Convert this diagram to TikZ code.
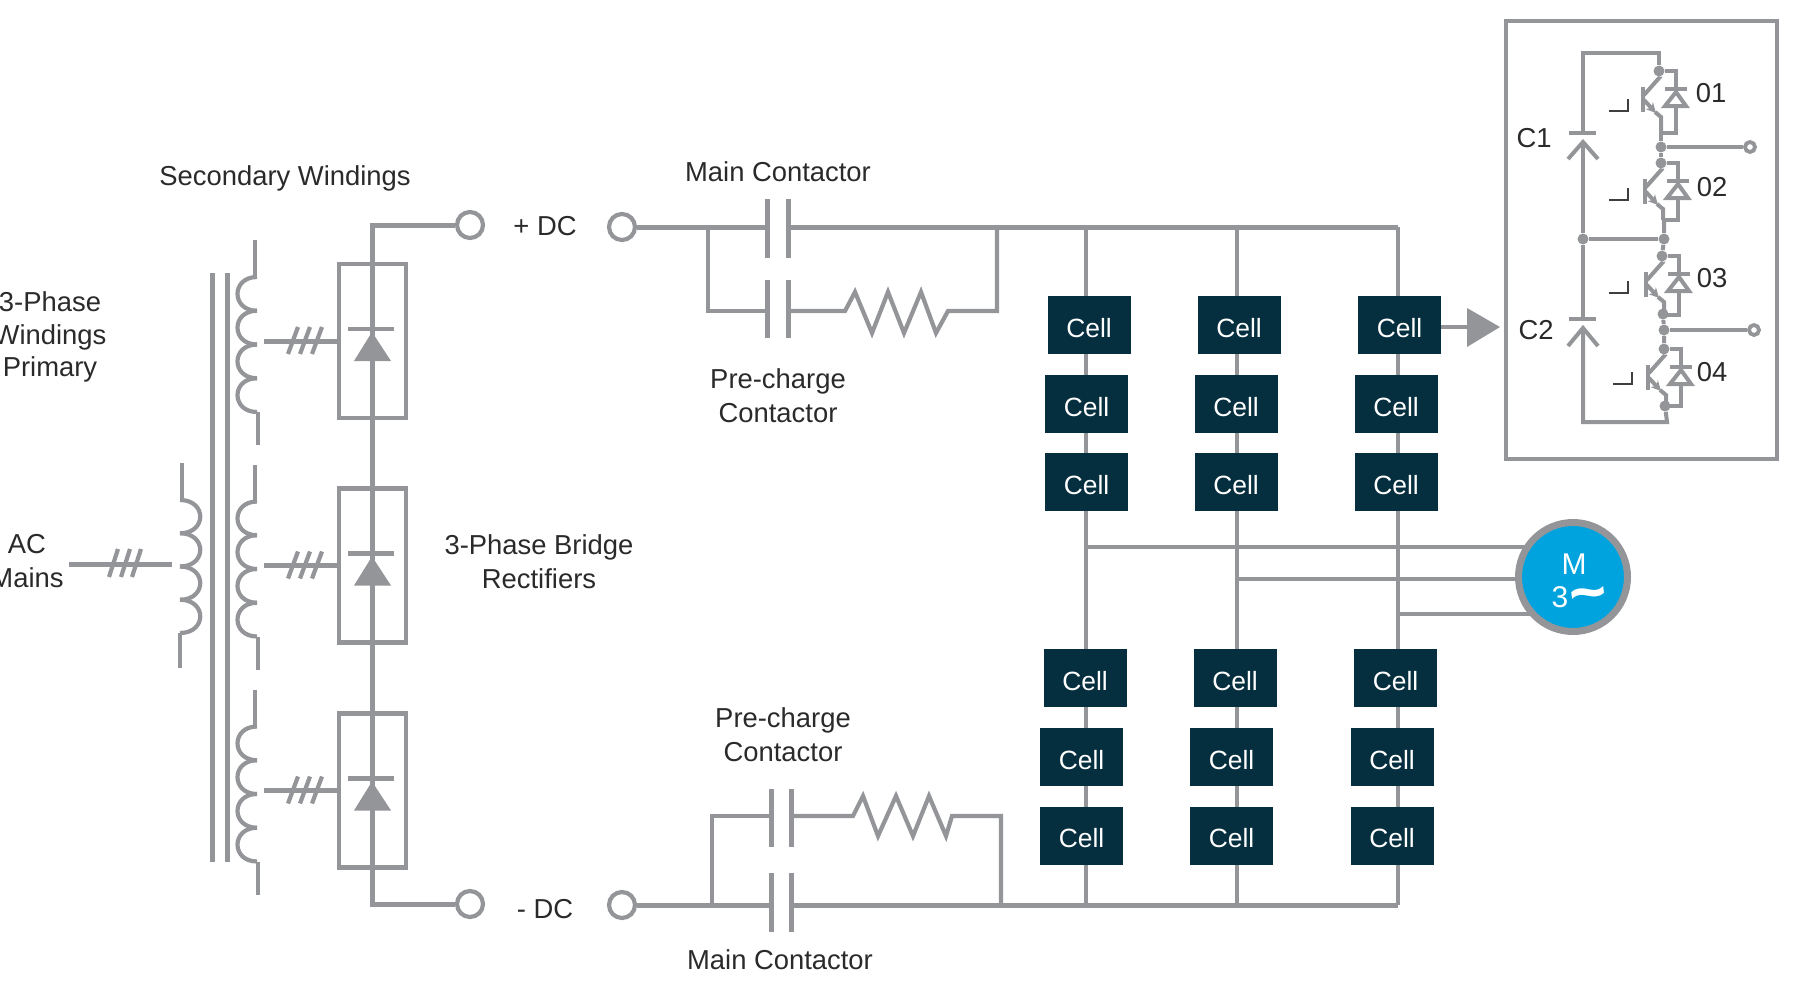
\documentclass[tikz,border=0pt]{standalone}
\usepackage{fontspec}
\setmainfont{Liberation Sans}
\usepackage{xcolor}
\usetikzlibrary{positioning,backgrounds,arrows.meta}
\definecolor{wirecolor}{RGB}{147, 149, 152}
\definecolor{cellcolor}{RGB}{5, 46, 62}
\definecolor{motorcolor}{RGB}{0, 163, 222}
\definecolor{labelcolor}{RGB}{42, 42, 42}

\begin{document}
\begin{tikzpicture}[
    x=0.5pt, y=-0.5pt,
    wire/.style={draw=wirecolor, line width=2.5pt},
    coilwire/.style={draw=wirecolor, line width=2.1pt},
    inwire/.style={draw=wirecolor, line width=2pt},
    frame/.style={rectangle, draw=wirecolor, line width=2.4pt, inner sep=0pt},
    terminal/.style={circle, draw=wirecolor, fill=white, line width=2.1pt, minimum size=13pt, inner sep=0pt},
    smallterminal/.style={circle, draw=wirecolor, fill=white, line width=1.9pt, minimum size=5pt, inner sep=0pt},
    jdot/.style={circle, fill=wirecolor, minimum size=5.5pt, inner sep=0pt},
    cellnode/.style={rectangle, fill=cellcolor, text=white, minimum width=41.5pt, minimum height=29pt, inner sep=0pt,
        text height=12.3pt, text depth=0pt, font=\fontsize{13.2}{16}\selectfont},
    lbl/.style={text=labelcolor, inner sep=0pt, align=center, font=\fontsize{13.7}{17}\selectfont},
    gatemark/.style={draw=labelcolor!80!wirecolor, line width=1pt},
]
    \useasboundingbox (0,0) rectangle (1800,1001);

    % Terminals
    \node[terminal] (plusL) at (470,225) {};
    \node[terminal] (plusR) at (622,227) {};
    \node[terminal] (minusL) at (470,904) {};
    \node[terminal] (minusR) at (622,905) {};

    % Cells, top half
    \foreach \c/\xa/\xb in {1/1089/1086.5, 2/1239/1236, 3/1399.5/1396} {
        \node[cellnode] (ta\c) at (\xa,325) {Cell};
        \node[cellnode] (tb\c) at (\xb,404) {Cell};
        \node[cellnode] (tc\c) at (\xb,482) {Cell};
    }
    % Cells, bottom half
    \foreach \c/\xa/\xb in {1/1085/1081.5, 2/1235/1231.5, 3/1395.5/1392} {
        \node[cellnode] (ba\c) at (\xa,678) {Cell};
        \node[cellnode] (bb\c) at (\xb,757) {Cell};
        \node[cellnode] (bc\c) at (\xb,835.5) {Cell};
    }

    % Motor
    \node[circle, draw=wirecolor, fill=motorcolor, line width=3.5pt, minimum size=54.5pt, inner sep=0pt] (motor) at (1573,577) {};
    \node[text=white, inner sep=0pt, font=\fontsize{15}{18}\selectfont] (motorM) at (1574,564) {M};
    \node[text=white, inner sep=0pt, font=\fontsize{15}{18}\selectfont] (motorN) at (1560,597) {3};
    \node[text=white, inner sep=0pt, rotate=8, font=\fontsize{32}{32}\bfseries] (motorT) at (1589,601) {\textasciitilde};

    % Buses and strings
    \coordinate (mainTL) at (767,227);
    \coordinate (mainTR) at (788,227);
    \coordinate (mainBL) at (771,905);
    \coordinate (mainBR) at (791,905);
    \coordinate (topbus) at (1398,227);
    \coordinate (botbus) at (1398,905);
    \coordinate (phase1) at (1086,547);
    \coordinate (phase2) at (1237,579);
    \coordinate (phase3) at (1398,614);
    \begin{scope}[on background layer]
        \draw[wire] (plusR) -- (mainTL);
        \draw[wire] (mainTR) -- (topbus);
        \draw[wire] (minusR) -- (mainBL);
        \draw[wire] (mainBR) -- (botbus);
        \foreach \x in {1086,1237,1398} {
            \draw[coilwire] (\x,227) -- (\x,905);
        }
        \draw[coilwire] (phase1) -- (phase1 -| motor);
        \draw[coilwire] (phase2) -- (phase2 -| motor);
        \draw[coilwire] (phase3) -- (phase3 -| motor);
    \end{scope}

    % Rectifier stack
    \draw[wire] (plusL) -| (372,904) -- (minusL);
    \foreach \i/\dy in {1/0, 2/224.5, 3/449.5} {
        \node[frame, minimum width=33.5pt, minimum height=77pt] (rect\i) at (372.5,341+\dy) {};
        \draw[coilwire] (348,329+\dy) -- (394,329+\dy);
        \fill[wirecolor] (372,332+\dy) -- (391,361+\dy) -- (354,361+\dy) -- cycle;
        \coordinate (tap\i) at (264,341+\dy);
        \draw[wire] (tap\i) -- (rect\i.west);
        \foreach \s in {0,12,24} {
            \draw[coilwire] (288+\s,354+\dy) -- (298+\s,327+\dy);
        }
        % Secondary winding
        \draw[coilwire] (255,240+\dy) -- (255,277+\dy);
        \draw[coilwire] (258,412+\dy) -- (258,445+\dy);
        \foreach \k in {0,1,2,3} {
            \draw[coilwire] (257,{277+\dy+33.75*\k}) .. controls (231,{277+\dy+33.75*\k}) and (231,{277+\dy+33.75*(\k+1)}) .. (257,{277+\dy+33.75*(\k+1)});
        }
    }

    % Core and primary winding
    \draw[wire] (212,273) -- (212,862);
    \draw[wire] (227,273) -- (227,862);
    \draw[coilwire] (182,463) -- (182,500);
    \draw[coilwire] (180,633) -- (180,668);
    \foreach \k in {0,1,2,3} {
        \draw[coilwire] (180,{500+33.25*\k}) .. controls (207,{500+33.25*\k}) and (207,{500+33.25*(\k+1)}) .. (180,{500+33.25*(\k+1)});
    }
    \coordinate (acL) at (69,564);
    \coordinate (acR) at (172,564);
    \draw[wire] (acL) -- (acR);
    \foreach \s in {0,12,23} {
        \draw[coilwire] (109+\s,577) -- (118+\s,549);
    }

    % Main contactor, top
    \coordinate (tbr) at (708,227);
    \coordinate (tcr) at (997,227);
    \draw[wire] (767,199) -- (767,258);
    \draw[wire] (788,199) -- (788,258);
    \draw[wire] (767,280) -- (767,338);
    \draw[wire] (788,280) -- (788,338);
    \draw[coilwire] (tbr) |- (767,311);
    \draw[coilwire] (788,311) -- (845,311) -- (855,292) -- (872,333) -- (888,292) -- (904,333) -- (921,292) -- (936,333) -- (948,311) -- (997,311) -- (tcr);

    % Main contactor, bottom
    \coordinate (bbr) at (712,905);
    \coordinate (bcr) at (1001,905);
    \draw[wire] (771,873) -- (771,932);
    \draw[wire] (791,873) -- (791,932);
    \draw[wire] (771,789) -- (771,847);
    \draw[wire] (791,789) -- (791,847);
    \draw[coilwire] (bbr) |- (771,816);
    \draw[coilwire] (791,816) -- (853,816) -- (863,796) -- (878,836) -- (896,796) -- (913,836) -- (929,796) -- (946,836) -- (952,816) -- (1001,816) -- (bcr);

    % Arrow to the inset
    \coordinate (arrowtip) at (1500,327);
    \draw[coilwire] (ta3.east |- arrowtip) -- (1470,327);
    \fill[wirecolor] (1467,308) -- (arrowtip) -- (1467,347) -- cycle;

    % Inset frame
    \node[frame, minimum width=135.5pt, minimum height=219pt] (inset) at (1641.5,240) {};

    % Half bridge
    \foreach \i/\tx/\ty/\low/\gx/\gy in {1/1659/71/133/1609/111, 2/1661/163/220/1609/200, 3/1662/256/314.5/1609/293, 4/1664/349/406/1613/384} {
        \node[jdot] (d\i) at (\tx,\ty) {};
        \draw[inwire] (d\i) -- (\tx+1,\ty+6) -- (\tx-15,\ty+24);
        \draw[inwire, line width=2.4pt] (\tx-16,\ty+16) -- (\tx-16,\ty+41);
        \draw[inwire, -{Stealth[length=5pt,width=5pt]}] (\tx-15,\ty+29) -- (\tx-3,\ty+42);
        \draw[inwire] (\tx-4,\ty+41) -- (\tx+2,\ty+46) -- (\tx+2,\low);
        % Freewheel diode
        \draw[inwire] (d\i) -| (\tx+17,\ty+18);
        \draw[inwire] (\tx+6,\ty+18) -- (\tx+28,\ty+18);
        \draw[inwire, line join=miter] (\tx+17,\ty+21) -- (\tx+27,\ty+35) -- (\tx+6,\ty+35) -- cycle;
        \draw[inwire] (\tx+17,\ty+35) -- (\tx+17,\low) -- (\tx+2,\low);
        % Gate mark
        \draw[gatemark] (\gx,\gy) -| (\gx+19,\gy-12);
    }
    \node[jdot] (out1) at (1661,147) {};
    \node[jdot] (mid) at (1664,239) {};
    \node[jdot] (e3) at (1663,314) {};
    \node[jdot] (out2) at (1664,330) {};
    \node[jdot] (e4) at (1665,406) {};
    \node[jdot] (cmid) at (1583,239) {};
    \node[smallterminal] (port1) at (1750,147) {};
    \node[smallterminal] (port2) at (1754,330) {};
    \draw[inwire] (1661,133) -- (out1) -- (d2);
    \draw[inwire] (1664,220) -- (mid) -- (d3);
    \draw[inwire] (e3) -- (out2) -- (d4);
    \draw[inwire] (out1) -- (port1);
    \draw[inwire] (out2) -- (port2);
    \draw[inwire] (cmid) -- (mid);

    % Capacitors
    \draw[inwire] (d1) |- (1583,53) -- (1583,133);
    \draw[inwire] (1569,133) -- (1596,133);
    \draw[inwire] (1568,159) -- (1583,142) -- (1598,159);
    \draw[inwire] (1583,142) -- (cmid) -- (1583,319);
    \draw[inwire] (1569,319) -- (1596,319);
    \draw[inwire] (1568,346) -- (1583,328) -- (1598,346);
    \draw[inwire] (1583,328) -- (1583,422) -- (1667,422) -- (e4);

    % Labels
    \node[lbl] (lblsec) at (285,178) {Secondary Windings};
    \node[lbl, font=\fontsize{13.7}{16.3}\selectfont] (lblpri) at (50,337) {3-Phase\\Windings\\Primary};
    \node[lbl] (lblac) at (27,561) {AC\\Mains};
    \node[lbl] (lblplus) at (545,226) {+ DC};
    \node[lbl] (lblminus) at (545,909) {- DC};
    \node[lbl] (lblrect) at (539,561.5) {3-Phase Bridge\\Rectifiers};
    \node[lbl] (lblmaint) at (778,172) {Main Contactor};
    \node[lbl] (lblpret) at (778,396) {Pre-charge\\Contactor};
    \node[lbl] (lblpreb) at (783,735) {Pre-charge\\Contactor};
    \node[lbl] (lblmainb) at (780,960) {Main Contactor};
    \node[lbl] (lblc1) at (1534,138) {C1};
    \node[lbl] (lblc2) at (1536,330) {C2};
    \node[lbl] (lbl01) at (1711,93) {01};
    \node[lbl] (lbl02) at (1712,187) {02};
    \node[lbl] (lbl03) at (1712,278) {03};
    \node[lbl] (lbl04) at (1712,372) {04};
\end{tikzpicture}
\end{document}
